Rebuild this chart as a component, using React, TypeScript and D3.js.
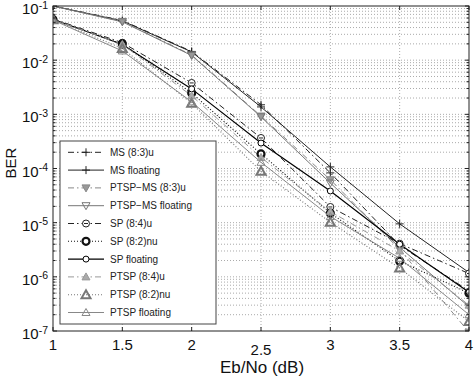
import React from "react";
import * as d3 from "d3";

// ---------- data ----------
const ebno = [1, 1.5, 2, 2.5, 3, 3.5, 4];
const xTicks = [1, 1.5, 2, 2.5, 3, 3.5, 4];
const yExponents = [-1, -2, -3, -4, -5, -6, -7];

const msU = [0.1, 0.054, 0.0145, 1.5e-3, 8.3e-5, 3.8e-6, 5.5e-7];
const msFloat = [0.1, 0.053, 0.0142, 1.37e-3, 1.07e-4, 9.5e-6, 1.2e-6];
const ptspMsU = [0.1, 0.052, 0.0125, 9.3e-4, 6.2e-5, 3.2e-6, 9.5e-8];
const ptspMsFloat = [0.1, 0.051, 0.0122, 9.0e-4, 5.4e-5, 3.5e-6, 2.8e-7];
const spU = [0.058, 0.021, 3.8e-3, 3.66e-4, 1.95e-5, 4.1e-6, 1.15e-6];
const spNu = [0.056, 0.02, 2.47e-3, 1.86e-4, 1.5e-5, 1.95e-6, 5.0e-7];
const spFloat = [0.057, 0.0195, 2.95e-3, 2.95e-4, 3.85e-5, 4.0e-6, 5.2e-7];
const ptspU = [0.057, 0.0195, 2.2e-3, 1.6e-4, 1.6e-5, 3.0e-6, 3.0e-7];
const ptspNu = [0.056, 0.0165, 1.6e-3, 8.9e-5, 1.02e-5, 1.45e-6, 1.5e-7];
const ptspFloat = [0.055, 0.0148, 1.7e-3, 1.3e-4, 1.3e-5, 2.2e-6, 2.0e-7];

const names = [
  "MS (8:3)u",
  "MS floating",
  "PTSP\u2212MS (8:3)u",
  "PTSP\u2212MS floating",
  "SP (8:4)u",
  "SP (8:2)nu",
  "SP floating",
  "PTSP (8:4)u",
  "PTSP (8:2)nu",
  "PTSP floating",
];
const seriesValues = [msU, msFloat, ptspMsU, ptspMsFloat, spU, spNu, spFloat, ptspU, ptspNu, ptspFloat];

// styles (kept apart from data)
type Style = { color: string; dash: string | null; marker: string; fill: string; width: number };
const DD = "6 3 1.5 3";
const DOT = "1 2";
const styles: Style[] = [
  { color: "#222", dash: DD, marker: "plus", fill: "none", width: 1 },
  { color: "#222", dash: null, marker: "plus", fill: "none", width: 1 },
  { color: "#888", dash: DD, marker: "tridown", fill: "#999", width: 1 },
  { color: "#777", dash: null, marker: "tridown", fill: "none", width: 1 },
  { color: "#222", dash: DD, marker: "circdot", fill: "none", width: 1 },
  { color: "#111", dash: DOT, marker: "circbold", fill: "none", width: 1.1 },
  { color: "#000", dash: null, marker: "circ", fill: "none", width: 1.2 },
  { color: "#999", dash: DD, marker: "triup", fill: "#aaa", width: 1 },
  { color: "#777", dash: DOT, marker: "triupbig", fill: "none", width: 1.1 },
  { color: "#888", dash: null, marker: "triup", fill: "none", width: 1 },
];

const W = 474;
const H = 379;
const left = 53;
const right = 469;
const top = 6;
const bottom = 331;

function Marker({ type, x, y, color, fill }: { type: string; x: number; y: number; color: string; fill: string }) {
  switch (type) {
    case "plus":
      return (
        <g stroke={color} strokeWidth={1}>
          <line x1={x - 4} x2={x + 4} y1={y} y2={y} />
          <line x1={x} x2={x} y1={y - 4} y2={y + 4} />
        </g>
      );
    case "tridown":
      return <path d={`M${x - 4},${y - 3} L${x + 4},${y - 3} L${x},${y + 4} Z`} stroke={color} fill={fill} strokeWidth={1} />;
    case "triup":
      return <path d={`M${x - 4},${y + 3} L${x + 4},${y + 3} L${x},${y - 4} Z`} stroke={color} fill={fill} strokeWidth={1} />;
    case "triupbig":
      return <path d={`M${x - 4.5},${y + 3.5} L${x + 4.5},${y + 3.5} L${x},${y - 4.5} Z`} stroke={color} fill={fill} strokeWidth={2} />;
    case "circdot":
      return (
        <g>
          <circle cx={x} cy={y} r={3.5} stroke={color} fill="white" strokeWidth={1} />
          <line x1={x - 2} x2={x + 2} y1={y} y2={y} stroke={color} strokeWidth={1} />
        </g>
      );
    case "circbold":
      return <circle cx={x} cy={y} r={3.5} stroke={color} fill="white" strokeWidth={2.2} />;
    case "circ":
    default:
      return <circle cx={x} cy={y} r={3} stroke={color} fill="white" strokeWidth={1} />;
  }
}

export default function App() {
  const xs = d3.scaleLinear().domain([1, 4]).range([left, right]);
  const ys = d3.scaleLog().domain([1e-7, 1e-1]).range([bottom, top]);

  const line = d3
    .line<[number, number]>()
    .x((d) => xs(d[0]))
    .y((d) => ys(d[1]));

  const minorVals: number[] = [];
  for (let e = -7; e < -1; e++) {
    for (let m = 2; m <= 9; m++) minorVals.push(m * Math.pow(10, e));
  }
  const majorVals = yExponents.map((e) => Math.pow(10, e));

  const font = "'Liberation Sans', Arial, sans-serif";
  const gridColor = "#aaaaaa";

  const legX = 60;
  const legY = 141;
  const legW = 156;
  const legH = 183;
  const rowY0 = 152.3;
  const rowStep = 17.8;

  return (
    <svg width={W} height={H} style={{ position: "absolute", left: 0, top: 0, background: "white" }} fontFamily={font}>
      <defs>
        <clipPath id="plotclip">
          <rect x={left} y={top} width={right - left} height={bottom - top} />
        </clipPath>
      </defs>
      <rect x={0} y={0} width={W} height={H} fill="white" />
      {/* grid */}
      <g stroke={gridColor} strokeWidth={1} strokeDasharray="1 2" fill="none">
        {xTicks.slice(1, -1).map((t) => (
          <line key={"gx" + t} x1={xs(t)} x2={xs(t)} y1={top} y2={bottom} />
        ))}
        {majorVals.slice(1, -1).map((v, i) => (
          <line key={"gy" + i} x1={left} x2={right} y1={ys(v)} y2={ys(v)} />
        ))}
        {minorVals.map((v, i) => (
          <line key={"gm" + i} x1={left} x2={right} y1={ys(v)} y2={ys(v)} />
        ))}
      </g>
      {/* series */}
      <g clipPath="url(#plotclip)">
        {seriesValues.map((vals, si) => {
          const st = styles[si];
          const pts = ebno.map((x, i) => [x, vals[i]] as [number, number]);
          return (
            <path
              key={"l" + si}
              d={line(pts) || ""}
              fill="none"
              stroke={st.color}
              strokeWidth={st.width}
              strokeDasharray={st.dash || undefined}
            />
          );
        })}
        {seriesValues.map((vals, si) => {
          const st = styles[si];
          return (
            <g key={"m" + si}>
              {ebno.map((x, i) => (
                <Marker key={i} type={st.marker} x={xs(x)} y={ys(vals[i])} color={st.color} fill={st.fill} />
              ))}
            </g>
          );
        })}
      </g>
      {/* axes box and ticks */}
      <rect x={left} y={top} width={right - left} height={bottom - top} fill="none" stroke="#222" strokeWidth={1} />
      <g stroke="#222" strokeWidth={1}>
        {xTicks.map((t) => (
          <g key={"xt" + t}>
            <line x1={xs(t)} x2={xs(t)} y1={bottom} y2={bottom - 4} />
            <line x1={xs(t)} x2={xs(t)} y1={top} y2={top + 4} />
          </g>
        ))}
        {majorVals.map((v, i) => (
          <g key={"yt" + i}>
            <line x1={left} x2={left + 4} y1={ys(v)} y2={ys(v)} />
            <line x1={right} x2={right - 4} y1={ys(v)} y2={ys(v)} />
          </g>
        ))}
        {minorVals.map((v, i) => (
          <g key={"ymt" + i}>
            <line x1={left} x2={left + 2.5} y1={ys(v)} y2={ys(v)} />
            <line x1={right} x2={right - 2.5} y1={ys(v)} y2={ys(v)} />
          </g>
        ))}
      </g>
      {/* tick labels */}
      <g fontSize={15} fill="#111">
        {xTicks.map((t) => (
          <text key={"xl" + t} x={xs(t)} y={bottom + 19 + (t === 2.5 ? 5 : 0)} textAnchor="middle">
            {String(t)}
          </text>
        ))}
        {yExponents.map((e) => (
          <text key={"yl" + e} x={48} y={ys(Math.pow(10, e)) + 8} textAnchor="end">
            10
            <tspan dy={-5.5} fontSize={10.5}>
              {"-" + String(-e)}
            </tspan>
          </text>
        ))}
      </g>
      {/* axis titles */}
      <text x={262} y={373} textAnchor="middle" fontSize={17} fill="#111">
        Eb/No (dB)
      </text>
      <text transform="translate(16,163) rotate(-90)" textAnchor="middle" fontSize={15} fill="#111">
        BER
      </text>
      {/* legend */}
      <rect x={legX} y={legY} width={legW} height={legH} fill="white" stroke="#444" strokeWidth={1} />
      {names.map((n, i) => {
        const st = styles[i];
        const y = rowY0 + i * rowStep;
        return (
          <g key={"leg" + i}>
            <line x1={68} x2={104} y1={y} y2={y} stroke={st.color} strokeWidth={st.width} strokeDasharray={st.dash || undefined} />
            <Marker type={st.marker} x={86} y={y} color={st.color} fill={st.fill} />
            <text x={110} y={y + 3.5} fontSize={10} fill="#222">
              {n}
            </text>
          </g>
        );
      })}
    </svg>
  );
}
